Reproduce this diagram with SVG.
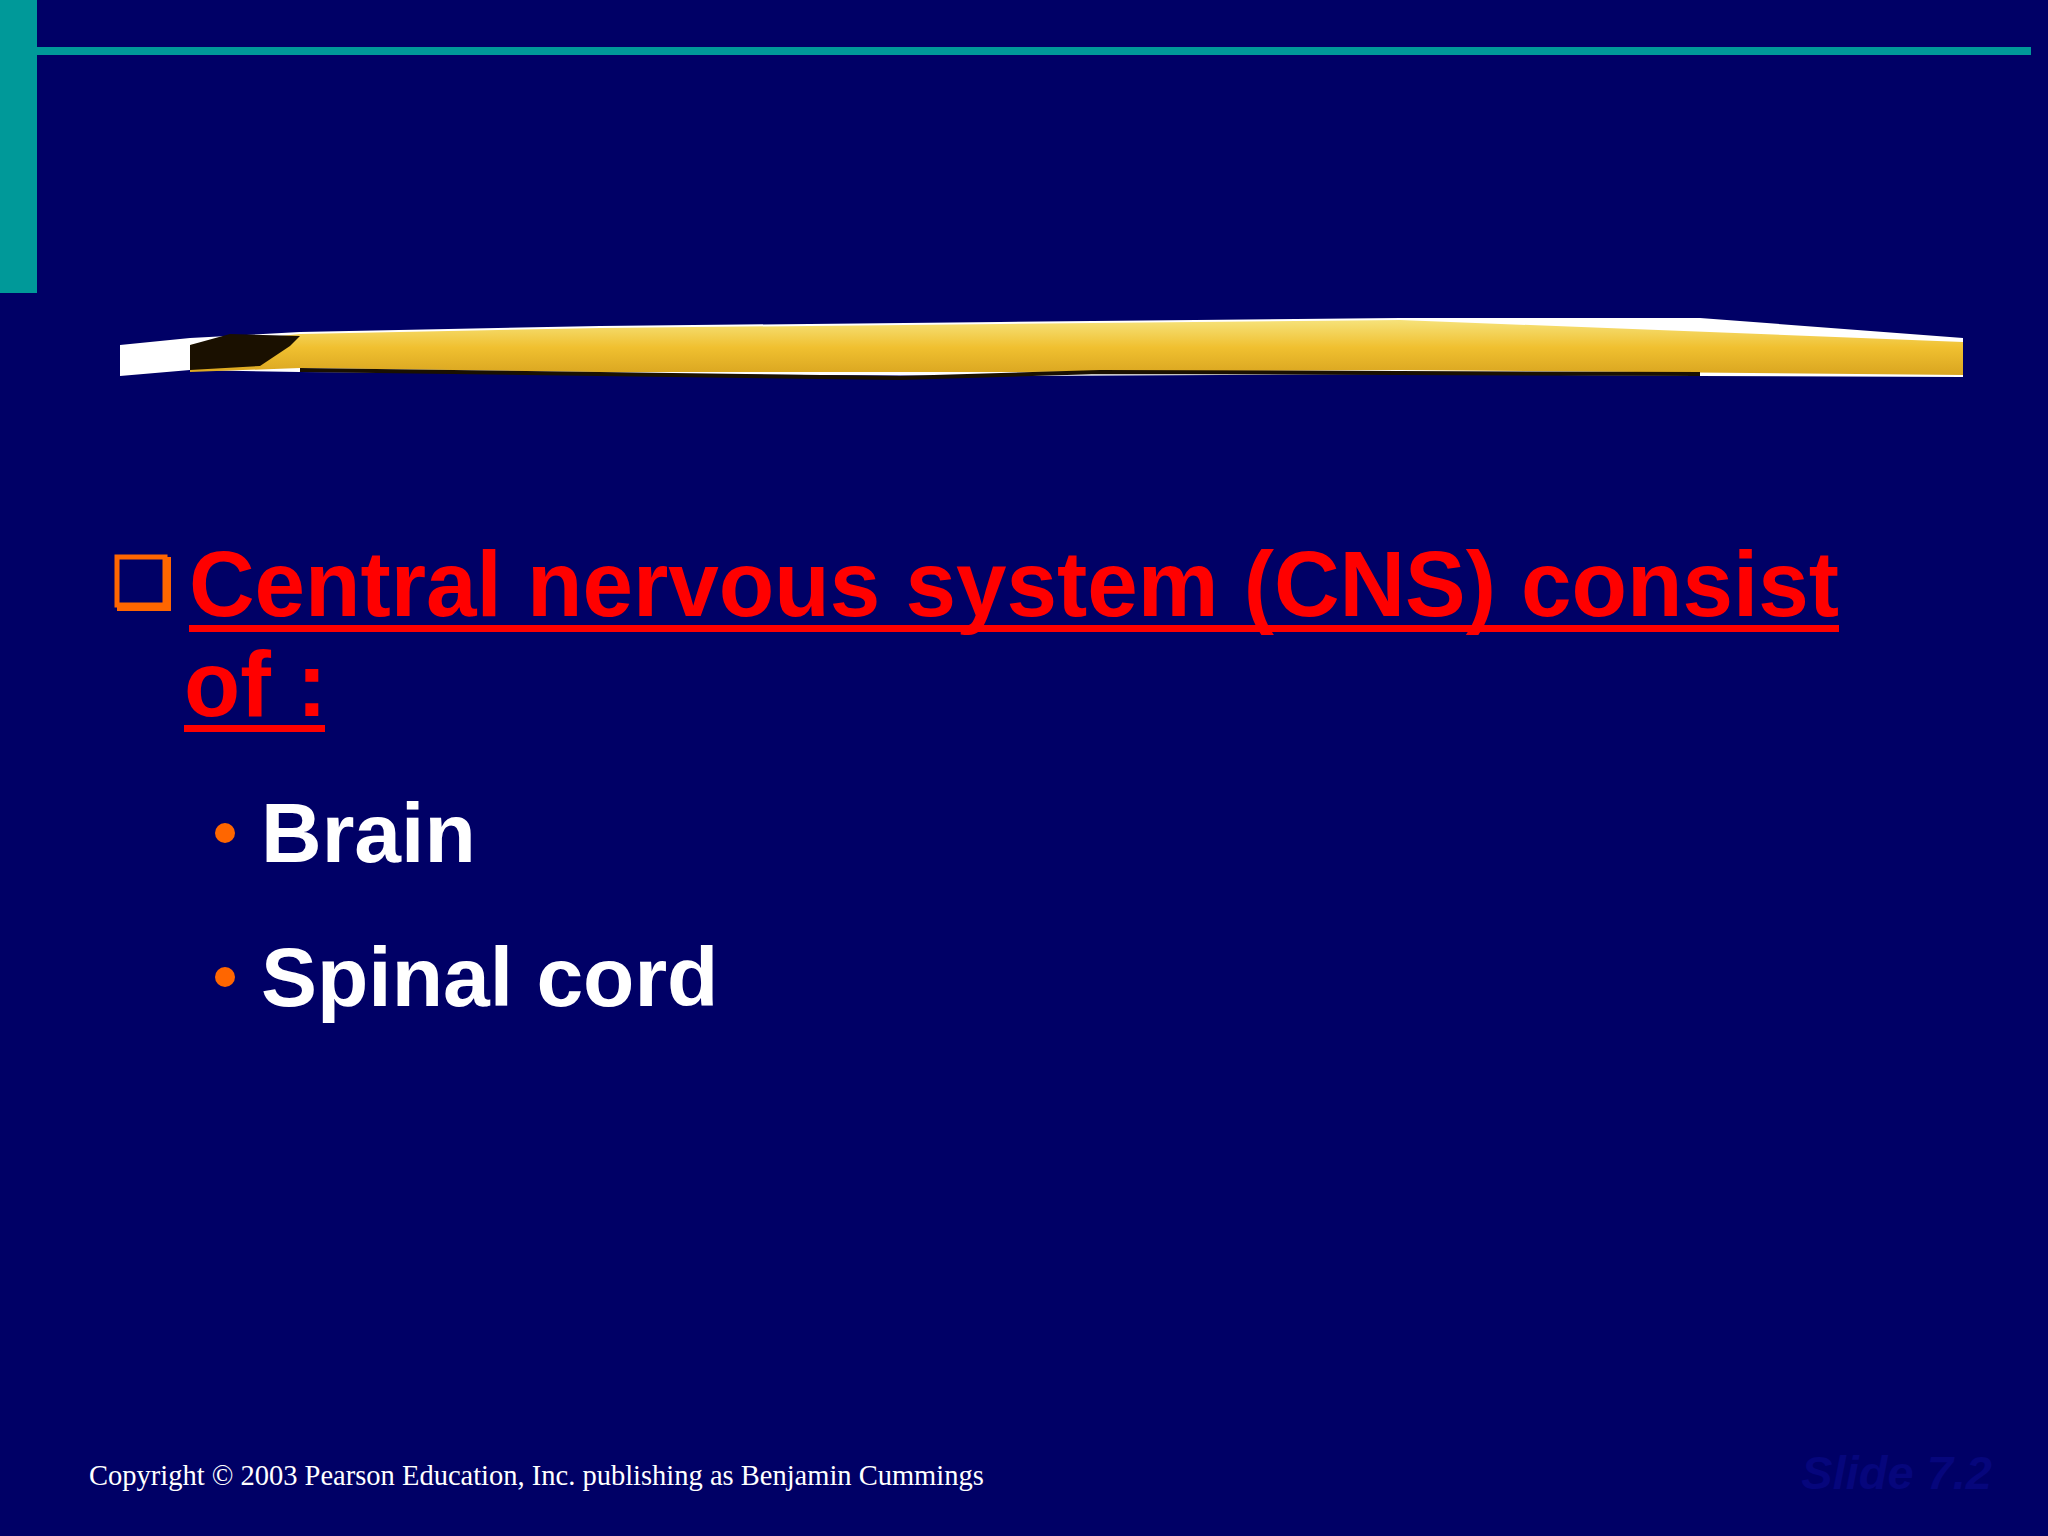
<svg xmlns="http://www.w3.org/2000/svg" width="2048" height="1536" viewBox="0 0 2048 1536">
<defs>
<linearGradient id="y" x1="0" y1="0" x2="0" y2="1">
<stop offset="0" stop-color="#f6e27a"/><stop offset="0.5" stop-color="#f0c030"/><stop offset="1" stop-color="#d9a520"/>
</linearGradient>
</defs>
<style>
.t{font-family:"Liberation Sans",Arial,sans-serif;font-weight:bold}
</style>
<rect width="2048" height="1536" fill="#000066"/>
<g id="decor">
<rect x="0" y="0" width="37" height="293" fill="#009999"/>
<rect x="37" y="47" width="1994" height="8" fill="#009999"/>
<polygon points="120,345 190,338 300,332 600,326 1000,322 1400,318 1700,318 1963,338 1963,377 1700,376 1400,374 1000,376 600,374 300,372 190,370 120,376" fill="#ffffff"/>
<polygon points="190,345 300,334 600,328 1000,324 1400,320 1963,342 1963,375 1400,370 1000,372 600,372 300,368 190,372" fill="url(#y)"/>
<polygon points="190,345 230,334 300,336 290,346 260,366 190,370" fill="#1a1000"/>
<path d="M300,370 L900,378 L1100,372 L1700,374" stroke="#1a1000" stroke-width="4" fill="none"/>
</g>
<g id="title">
<rect x="117" y="557" width="54" height="54" fill="#ff6600"/>
<rect x="117" y="557" width="48" height="48" fill="#000066" stroke="#ff6600" stroke-width="5"/>
<text class="t" x="189" y="616" font-size="92" fill="#ff0000" textLength="1650" lengthAdjust="spacingAndGlyphs">Central nervous system (CNS) consist</text>
<rect x="189" y="625" width="1650" height="7" fill="#ff0000"/>
<text class="t" x="184" y="716" font-size="92" fill="#ff0000">of :</text>
<rect x="184" y="725" width="141" height="7" fill="#ff0000"/>
</g>
<g id="items">
<circle cx="225" cy="833" r="10" fill="#ff6600"/>
<text class="t" x="261" y="862" font-size="84" fill="#ffffff">Brain</text>
<circle cx="225" cy="977" r="10" fill="#ff6600"/>
<text class="t" x="261" y="1006" font-size="84" fill="#ffffff">Spinal cord</text>
</g>
<g id="footer">
<text x="89" y="1485" font-family="Liberation Serif,serif" font-size="28.5" fill="#ffffff">Copyright © 2003 Pearson Education, Inc. publishing as Benjamin Cummings</text>
<text x="1992" y="1489" text-anchor="end" font-family="Liberation Sans,sans-serif" font-weight="bold" font-style="italic" font-size="47" fill="#06067c">Slide 7.2</text>
</g>
</svg>
